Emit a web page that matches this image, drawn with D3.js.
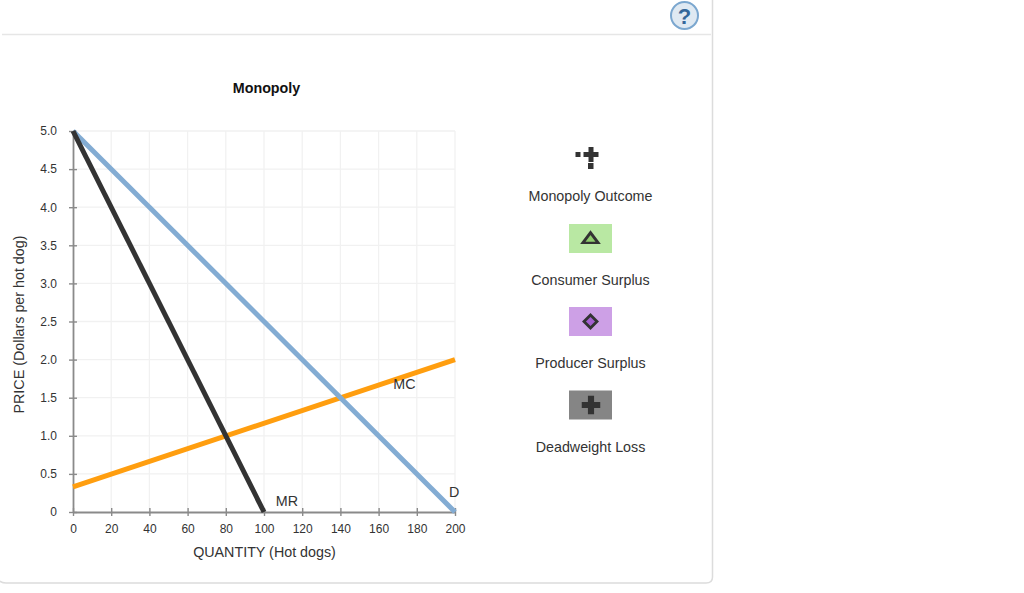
<!DOCTYPE html>
<html><head><meta charset="utf-8">
<script src="https://cdn.jsdelivr.net/npm/d3@7/dist/d3.min.js"></script>
<style>html,body{margin:0;padding:0;background:#fff;overflow:hidden}svg{display:block}text{font-family:"Liberation Sans",Arial,sans-serif}</style>
</head><body><svg id="c" width="1024" height="593"></svg>
<script>
const title = "Monopoly";
const xLabel = "QUANTITY (Hot dogs)";
const yLabel = "PRICE (Dollars per hot dog)";
const xTicks = [0,20,40,60,80,100,120,140,160,180,200];
const yTicks = [0,0.5,1,1.5,2,2.5,3,3.5,4,4.5,5];
const demandQ = [0,200], demandP = [5,0];
const mrQ = [0,100], mrP = [5,0];
const mcQ = [0,200], mcP = [0.33,2];
const legendNames = ["Monopoly Outcome","Consumer Surplus","Producer Surplus","Deadweight Loss"];

const svg = d3.select("#c");
const x = d3.scaleLinear().domain([0,200]).range([73,455]);
const y = d3.scaleLinear().domain([0,5]).range([512,131]);
const dark = "#333333";
const fs = 14.3;

// card
svg.append("path").attr("d","M712.5,-4 V577 Q712.5,583 706,583 H6 Q1,583 -3,579")
  .attr("fill","none").attr("stroke","#dcdcdc").attr("stroke-width",1.5);
svg.append("line").attr("x1",2).attr("x2",711).attr("y1",34.5).attr("y2",34.5).attr("stroke","#e6e6e6").attr("stroke-width",1.5);

// help icon
const help = svg.append("g").attr("transform","translate(684.5,15.5)");
help.append("circle").attr("r",13.5).attr("fill","#dfe9f2").attr("stroke","#7ba7cf").attr("stroke-width",2);
help.append("text").attr("text-anchor","middle").attr("y",8).attr("font-size",22).attr("font-weight","bold").attr("fill","#34679a").text("?");

// grid
const grid = svg.append("g").attr("stroke","#f1f1f1").attr("stroke-width",1.3);
grid.selectAll(".v").data(xTicks.slice(1)).join("line").attr("class","v")
  .attr("x1",d=>x(d)).attr("x2",d=>x(d)).attr("y1",y(5)).attr("y2",y(0));
grid.selectAll(".h").data(yTicks.slice(1)).join("line").attr("class","h")
  .attr("x1",x(0)).attr("x2",x(200)).attr("y1",d=>y(d)).attr("y2",d=>y(d));

// axes
const xAxis = svg.append("g").attr("transform",`translate(0,${y(0)})`)
  .call(d3.axisBottom(x).tickValues(xTicks).tickFormat(d=>d).tickSize(0).tickPadding(12));
const yAxis = svg.append("g").attr("transform",`translate(${x(0)},0)`)
  .call(d3.axisLeft(y).tickValues(yTicks).tickFormat(d=>d===0?"0":d.toFixed(1)).tickSize(0).tickPadding(16));
[xAxis,yAxis].forEach(a=>{
  a.select(".domain").attr("stroke","#8a8a8a").attr("stroke-width",1.8);
  a.selectAll("text").attr("font-size",12).attr("font-family",'"Liberation Sans",Arial,sans-serif').attr("fill","#333");
});
xAxis.selectAll(".tick").append("line").attr("y1",-4).attr("y2",4).attr("stroke","#8a8a8a").attr("stroke-width",1.4);
yAxis.selectAll(".tick").append("line").attr("x1",-4).attr("x2",4).attr("stroke","#8a8a8a").attr("stroke-width",1.4);

// curves
const line = d3.line().x(d=>x(d[0])).y(d=>y(d[1]));
const curve = (q,p,col)=>svg.append("path").datum(q.map((v,i)=>[v,p[i]])).attr("d",line)
  .attr("fill","none").attr("stroke",col).attr("stroke-width",5);
curve(mcQ,mcP,"#ff9e0f");
curve(demandQ,demandP,"#83acd3");
curve(mrQ,mrP,dark);

// curve labels
const lab = (t,q,p)=>svg.append("text").attr("x",x(q)).attr("y",y(p)).attr("text-anchor","middle")
  .attr("font-size",fs).attr("fill","#333").text(t);
lab("MC",173.5,1.61);
lab("MR",112,0.085);
lab("D",199.5,0.2);

// titles
svg.append("text").attr("x",266.5).attr("y",92.5).attr("text-anchor","middle").attr("font-size",fs).attr("font-weight","bold").attr("fill","#111").text(title);
svg.append("text").attr("x",264.5).attr("y",557).attr("text-anchor","middle").attr("font-size",fs).attr("fill","#333").text(xLabel);
svg.append("text").attr("transform","translate(24,324.5) rotate(-90)").attr("text-anchor","middle").attr("font-size",fs).attr("fill","#333").text(yLabel);

// legend
const lx = 590.5, labelY = [201,285,368,452], swatchY = [null,238.5,321.5,405];
const swatchCol = [null,"#b9e8a3","#cda0e6","#858585"];
legendNames.forEach((n,i)=>{
  svg.append("text").attr("x",lx).attr("y",labelY[i]).attr("text-anchor","middle").attr("font-size",fs).attr("fill","#333").text(n);
  if(i>0) svg.append("rect").attr("x",lx-21.5).attr("y",swatchY[i]-14.5).attr("width",43).attr("height",29).attr("fill",swatchCol[i]);
});
// Monopoly Outcome icon
svg.append("path").attr("transform",`translate(${lx+0.5},154.5)`).attr("d",d3.symbol(d3.symbolCross,125)).attr("fill",dark);
svg.append("rect").attr("x",lx-15).attr("y",152).attr("width",5).attr("height",5).attr("fill",dark);
svg.append("rect").attr("x",lx-2.5).attr("y",163).attr("width",5.5).attr("height",6).attr("fill",dark);
// swatch glyphs
svg.append("path").attr("transform",`translate(${lx},239.5) scale(1.3,1)`).attr("d",d3.symbol(d3.symbolTriangle,60)).attr("fill","#8fce6c").attr("stroke",dark).attr("stroke-width",2.4);
svg.append("path").attr("transform",`translate(${lx},321.5) rotate(45)`).attr("d",d3.symbol(d3.symbolSquare,85)).attr("fill","#a45fd0").attr("stroke",dark).attr("stroke-width",2.8);
svg.append("path").attr("transform",`translate(${lx+0.5},405)`).attr("d",d3.symbol(d3.symbolCross,190)).attr("fill",dark);
</script></body></html>
